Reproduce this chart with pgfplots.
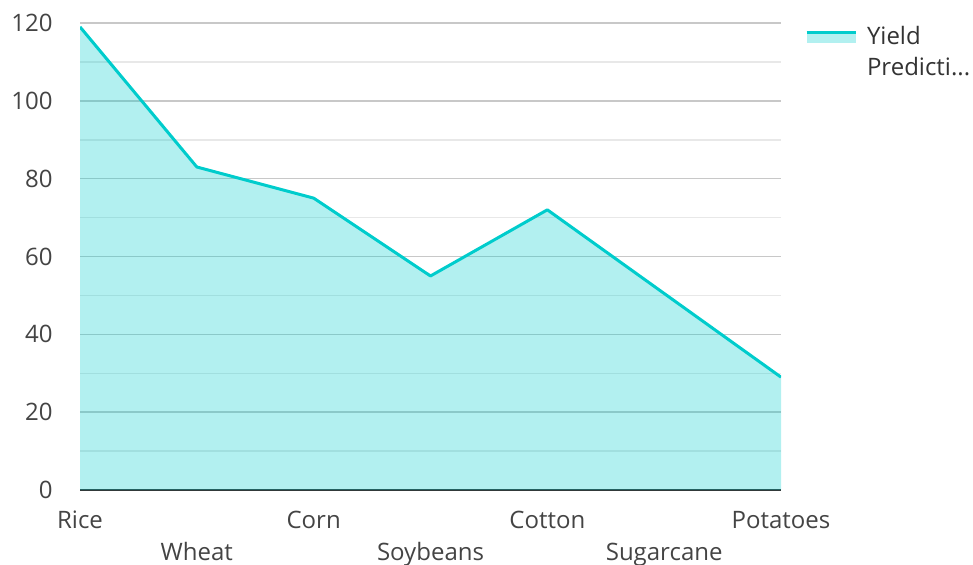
\documentclass[border=0pt]{standalone}
\usepackage{fontspec}
\setmainfont{Open Sans}
\usepackage{pgfplots}
\pgfplotsset{compat=1.18}
\definecolor{c0}{HTML}{00CCCC}
\definecolor{tickc}{HTML}{444444}
\definecolor{legc}{HTML}{333333}
\definecolor{majg}{HTML}{C8C8C8}
\definecolor{ming}{HTML}{E8E8E8}
\definecolor{axc}{HTML}{333333}
\begin{document}
\fontsize{12pt}{15.5pt}\selectfont
\begin{tikzpicture}
\begin{axis}[
  name=ax, scale only axis, width=350.5pt, height=233.5pt,
  xmin=0, xmax=6, ymin=0, ymax=120,
  axis x line*=bottom, axis y line*=left,
  axis line style={-},
  x axis line style={draw=axc, line width=1pt},
  y axis line style={draw=none},
  major tick length=0pt, minor tick length=0pt,
  tick style={draw=none},
  ytick={0,20,...,120}, minor ytick={10,30,...,110},
  ymajorgrids, yminorgrids,
  major grid style={draw=majg, line width=0.75pt},
  minor grid style={draw=ming, line width=0.75pt},
  /pgf/number format/assume math mode=true,
  yticklabel style={anchor=east, inner sep=0pt, xshift=-13.5pt, text=tickc, font=\fontsize{12pt}{14pt}\selectfont},
  xtick={0,2,4,6}, xticklabels={Rice,Corn,Cotton,Potatoes},
  xticklabel style={anchor=base, inner sep=0pt, yshift=-19pt, text=tickc, font=\fontsize{12pt}{14pt}\selectfont},
  extra x ticks={1,3,5}, extra x tick labels={Wheat,Soybeans,Sugarcane},
  extra x tick style={grid=none, xticklabel style={yshift=-16pt}},
  legend style={at={(rel axis cs:1,1)}, anchor=north west, draw=none, fill=none,
    inner sep=0pt, outer sep=0pt, xshift=12pt, yshift=0pt,
    nodes={inner sep=0pt, text=legc, font=\fontsize{12pt}{15.5pt}\selectfont},
    column sep=5pt},
  legend image code/.code={%
    \path[fill=c0, fill opacity=0.3, draw=none] (0pt,-3.5pt) rectangle (24.5pt,1.5pt);
    \path[draw=c0, line width=1.5pt] (0pt,1.5pt) -- (24.5pt,1.5pt);},
]
\addplot[draw=none, fill=c0, fill opacity=0.3, forget plot] coordinates {
  (0,119) (1,83) (2,75) (3,55) (4,72) (5,50.5) (6,29)
} \closedcycle;
\addplot[c0, line width=1.5pt, line join=round] coordinates {
  (0,119) (1,83) (2,75) (3,55) (4,72) (5,50.5) (6,29)
};
\addlegendentry{\begin{tabular}[t]{@{}l@{}}Yield\\Predicti...\end{tabular}}
\end{axis}
\pgfresetboundingbox
\path[use as bounding box] ([xshift=-40pt,yshift=-37pt]ax.south west) rectangle ([xshift=96pt,yshift=11.5pt]ax.north east);
\end{tikzpicture}
\end{document}
